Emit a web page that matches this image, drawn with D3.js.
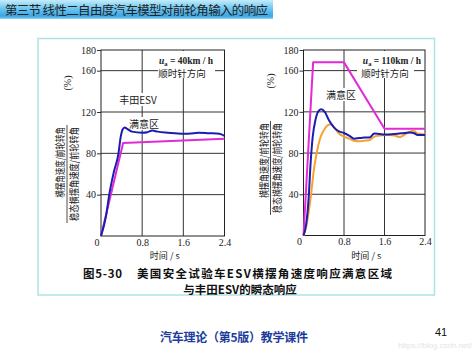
<!DOCTYPE html>
<html><head><meta charset="utf-8">
<script src="https://cdn.jsdelivr.net/npm/d3@7"></script>
<style>body{margin:0;background:#fff}svg{display:block}</style>
</head><body>
<script>
// ---- data ----
const yTicks = [40, 80, 120, 160, 180];
const xTicks = [0.8, 1.6, 2.4];
// left panel (40 km/h)
const leftBoundT = [0, 0.43, 2.4];
const leftBoundV = [0, 90, 94];
const leftEsvT = [0, 0.1, 0.16, 0.25, 0.34, 0.38, 0.42, 0.46, 0.5, 0.6, 0.8, 0.9, 1.0, 1.1, 1.3, 1.6, 1.8, 1.9, 2.1, 2.3, 2.4];
const leftEsvV = [0, 20, 40, 62, 80, 95, 103, 105, 104, 101, 100, 100.5, 102, 101, 100, 99, 99.5, 100, 99.5, 99, 97];
// right panel (110 km/h)
const rightBoundT = [0, 0.19, 0.8, 1.6, 2.4];
const rightBoundV = [0, 168, 168, 103.5, 103.5];
const rightEsvT = [0, 0.05, 0.1, 0.14, 0.18, 0.24, 0.3, 0.35, 0.42, 0.5, 0.6, 0.7, 0.8, 0.9, 1.0, 1.1, 1.2, 1.3, 1.4, 1.5, 1.6, 1.8, 2.0, 2.1, 2.2, 2.25, 2.4];
const rightEsvV = [0, 10, 35, 70, 95, 113, 121, 122.5, 120, 112, 105, 101, 99.5, 97, 94, 94.5, 95, 95, 99, 98.5, 98, 98.5, 99.5, 100, 99, 97.5, 97.5];
const rightAltT = [0, 0.05, 0.1, 0.15, 0.2, 0.26, 0.32, 0.4, 0.48, 0.55, 0.62, 0.7, 0.8, 0.9, 1.0, 1.1, 1.2, 1.3, 1.4, 1.5, 1.6, 1.7, 1.8, 1.9, 2.0, 2.1, 2.17, 2.25, 2.4];
const rightAltV = [0, 8, 22, 40, 62, 80, 93, 102, 107, 108, 104, 99, 96, 94, 92, 91.5, 92, 92.5, 96, 97, 97.5, 97.5, 97, 95.5, 98, 100.5, 102, 99, 98];

const W = 474, H = 355;
const svg = d3.select("body").append("svg").attr("width", W).attr("height", H);
const serif = "'Liberation Serif','DejaVu Serif',serif";
const cjk = "'Noto Sans CJK SC','Noto Sans CJK JP',sans-serif";

// title banner
const defs = svg.append("defs");
const g = defs.append("linearGradient").attr("id", "ban").attr("x1", 0).attr("y1", 0).attr("x2", 0).attr("y2", 1);
g.append("stop").attr("offset", "0%").attr("stop-color", "#c4ecfb");
g.append("stop").attr("offset", "45%").attr("stop-color", "#6cc6f0");
g.append("stop").attr("offset", "85%").attr("stop-color", "#3aa4e4");
g.append("stop").attr("offset", "100%").attr("stop-color", "#8fd4f4");
svg.append("rect").attr("x", 0).attr("y", 0).attr("width", 273).attr("height", 19).attr("fill", "url(#ban)");
svg.append("text").attr("x", 5).attr("y", 14.5).attr("font-family", cjk).attr("font-size", 12.5)
  .attr("fill", "#222").attr("textLength", 263).text("第三节 线性二自由度汽车模型对前轮角输入的响应");

// frame
svg.append("rect").attr("x", 38).attr("y", 38.5).attr("width", 396.5).attr("height", 256.5)
  .attr("fill", "#fff").attr("stroke", "#aee3e6").attr("stroke-width", 1.5);

function vtext(p, cx, top, len, str) {
  // rotated text whose end sits at `top`, squeezed to `len` px along its run
  const t = p.append("text").attr("font-family", cjk).attr("font-size", 10.5).attr("fill", "#222")
    .attr("text-anchor", "end").attr("dy", "0.36em").text(str);
  const w = t.node().getComputedTextLength();
  t.attr("transform", `translate(${cx},${top}) rotate(-90) scale(${len / w},1)`);
}

function panel(opt) {
  const x = d3.scaleLinear().domain([0, 2.4]).range([opt.x0, opt.x1]);
  const y = d3.scaleLinear().domain([0, 180]).range([opt.y0, opt.y1]);
  const p = svg.append("g");
  // grid
  p.selectAll(".hg").data(yTicks.filter(d => d < 180)).join("line")
    .attr("x1", opt.x0).attr("x2", opt.x1).attr("y1", d => y(d)).attr("y2", d => y(d))
    .attr("stroke", "#333").attr("stroke-width", 1);
  p.selectAll(".vg").data(xTicks.filter(d => d < 2.4)).join("line")
    .attr("y1", opt.y0).attr("y2", opt.y1).attr("x1", d => x(d)).attr("x2", d => x(d))
    .attr("stroke", "#333").attr("stroke-width", 1);
  // y axis ticks & labels
  const ya = d3.axisLeft(y).tickValues(yTicks).tickSize(4).tickFormat(d3.format("d"));
  const yg = p.append("g").attr("transform", `translate(${opt.x0},0)`).call(ya);
  yg.select(".domain").remove();
  yg.selectAll("line").attr("stroke", "#333");
  yg.selectAll("text").attr("font-family", serif).attr("font-size", 10).attr("fill", "#222").attr("x", -5);
  const xa = d3.axisBottom(x).tickValues(xTicks).tickSize(0).tickFormat(d3.format(".1f"));
  const xg = p.append("g").attr("transform", `translate(0,${opt.y0})`).call(xa);
  xg.select(".domain").remove();
  xg.selectAll("text").attr("font-family", serif).attr("font-size", 10).attr("fill", "#222").attr("y", 9.5).attr("dy", 0);
  p.append("text").attr("x", opt.x0 - 4).attr("y", opt.y0 + 9.5).attr("text-anchor", "middle")
    .attr("font-family", serif).attr("font-size", 10).attr("fill", "#222").text("0");
  // frame
  p.append("rect").attr("x", opt.x0).attr("y", opt.y1).attr("width", opt.x1 - opt.x0).attr("height", opt.y0 - opt.y1)
    .attr("fill", "none").attr("stroke", "#222").attr("stroke-width", 1);
  // legend box
  p.append("rect").attr("x", opt.lb[0]).attr("y", opt.y1 + 1).attr("width", opt.lb[1] - opt.lb[0]).attr("height", 27).attr("fill", "#fff");
  const lt = p.append("text").attr("x", opt.lx).attr("y", 64).attr("text-anchor", "middle")
    .attr("font-family", serif).attr("font-size", 9.5).attr("font-weight", "bold").attr("fill", "#222");
  lt.append("tspan").attr("font-style", "italic").text("u");
  lt.append("tspan").attr("font-size", 6.5).attr("dy", 2).text("a");
  lt.append("tspan").attr("dy", -2).text(" = " + opt.speed);
  p.append("text").attr("x", opt.lx2).attr("y", 76.5).attr("text-anchor", "middle")
    .attr("font-family", cjk).attr("font-size", 9.5).attr("fill", "#222").text("顺时针方向");
  // labels
  opt.labels.forEach(l => {
    const r = p.append("rect").attr("fill", "#fff");
    const t = p.append("text").attr("x", l.x).attr("y", l.y).attr("text-anchor", "middle")
      .attr("font-family", cjk).attr("font-size", 10).attr("fill", "#222").text(l.t);
    const bb = t.node().getBBox();
    r.attr("x", bb.x - 1).attr("y", bb.y + 1).attr("width", bb.width + 2).attr("height", bb.height - 2);
  });
  // lines
  const line = d3.line().x(d => x(d[0])).y(d => y(d[1])).curve(d3.curveMonotoneX);
  const lineL = d3.line().x(d => x(d[0])).y(d => y(d[1]));
  opt.series.forEach(s => {
    p.append("path").datum(d3.zip(s.t, s.v)).attr("d", s.straight ? lineL : line)
      .attr("fill", "none").attr("stroke", s.c).attr("stroke-width", 2).attr("stroke-linejoin", "round");
  });
  // axis titles
  p.append("text").attr("x", (opt.x0 + opt.x1) / 2 + 2).attr("y", 259).attr("text-anchor", "middle")
    .attr("font-family", cjk).attr("font-size", 9).attr("fill", "#222").text("时间 / s");
  const a = opt.ay;
  vtext(p, a.u, a.top, a.lenU, "横摆角速度/前轮转角");
  p.append("line").attr("x1", (a.u + a.l) / 2).attr("x2", (a.u + a.l) / 2).attr("y1", a.top - 2).attr("y2", a.top + a.lenL + 2)
    .attr("stroke", "#222").attr("stroke-width", 0.8);
  vtext(p, a.l, a.top, a.lenL, "稳态横摆角速度/前轮转角");
  p.append("text").attr("transform", `translate(${(a.u + a.l) / 2},${a.pct}) rotate(-90)`).attr("text-anchor", "middle").attr("dy", "0.35em")
    .attr("font-family", serif).attr("font-size", 10).attr("fill", "#222").text("(%)");
}

panel({
  x0: 101, x1: 224.5, y0: 236, y1: 50, lb: [158, 215], lx: 186, lx2: 182, speed: "40km / h",
  labels: [{ t: "丰田ESV", x: 138, y: 104 }, { t: "满意区", x: 144, y: 128 }],
  series: [{ t: leftBoundT, v: leftBoundV, c: "#e22ad8", straight: true }, { t: leftEsvT, v: leftEsvV, c: "#1c1cb0" }],
  ay: { u: 60, l: 74, top: 127, lenU: 71, lenL: 94, pct: 83 }
});
panel({
  x0: 303.5, x1: 425, y0: 235.5, y1: 50, lb: [357, 414], lx: 392, lx2: 385, speed: "110km / h",
  labels: [{ t: "满意区", x: 341, y: 99 }],
  series: [{ t: rightBoundT, v: rightBoundV, c: "#e22ad8", straight: true }, { t: rightAltT, v: rightAltV, c: "#f5a232" }, { t: rightEsvT, v: rightEsvV, c: "#1c1cb0" }],
  ay: { u: 264, l: 277, top: 123, lenU: 75, lenL: 90, pct: 81 }
});

// caption
svg.append("text").attr("x", 83).attr("y", 277.5).attr("font-family", cjk).attr("font-size", 11.5).attr("font-weight", "bold")
  .attr("fill", "#111").attr("textLength", 39).text("图5-30");
svg.append("text").attr("x", 137).attr("y", 277.5).attr("font-family", cjk).attr("font-size", 11.5).attr("font-weight", "bold")
  .attr("fill", "#111").attr("textLength", 255).text("美国安全试验车ESV横摆角速度响应满意区域");
svg.append("text").attr("x", 240).attr("y", 294.2).attr("text-anchor", "middle").attr("font-family", cjk).attr("font-size", 11.5).attr("font-weight", "bold")
  .attr("fill", "#111").text("与丰田ESV的瞬态响应");

// footer
svg.append("text").attr("x", 441).attr("y", 336).attr("text-anchor", "middle").attr("font-family", "'Liberation Sans',sans-serif")
  .attr("font-size", 11).attr("fill", "#111").text("41");
svg.append("text").attr("x", 160).attr("y", 342).attr("font-family", cjk).attr("font-size", 12).attr("font-weight", "bold")
  .attr("fill", "#1c3c9c").attr("textLength", 148).text("汽车理论（第5版）教学课件");
svg.append("text").attr("x", 472).attr("y", 348).attr("text-anchor", "end").attr("font-family", "'Liberation Sans',sans-serif")
  .attr("font-size", 8).attr("fill", "#e4e4e4").text("https://blog.csdn.net/");
</script>
</body></html>
